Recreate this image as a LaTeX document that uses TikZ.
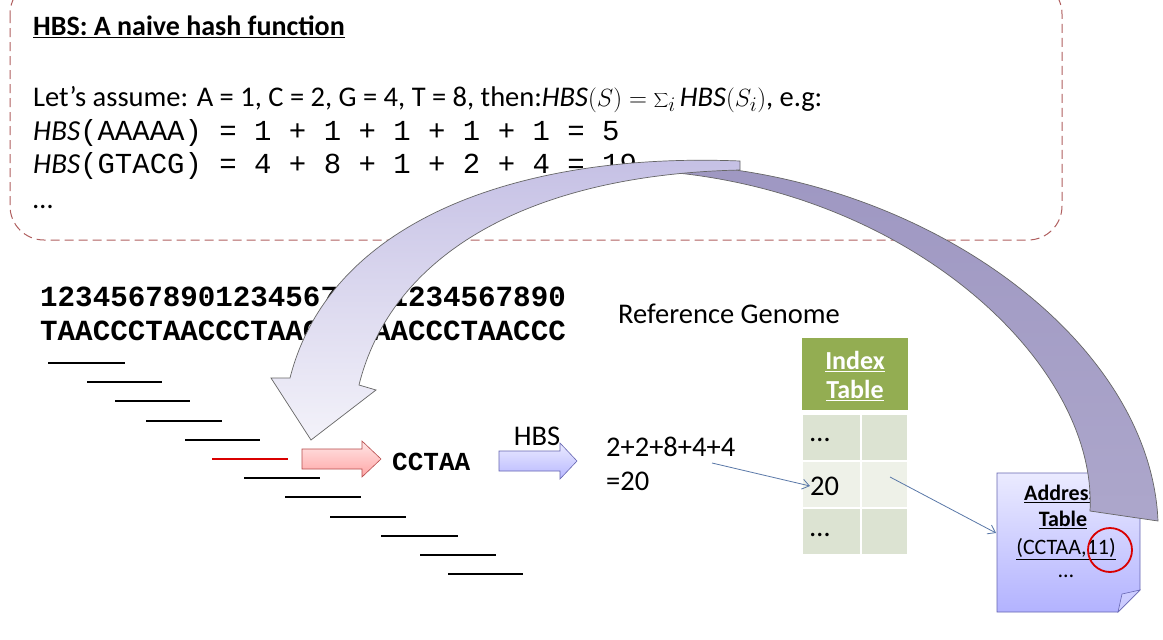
\documentclass[tikz,border=0pt]{standalone}
\usepackage{fontspec}
\setmainfont{Carlito}
\setmonofont{Liberation Mono}
\usetikzlibrary{arrows.meta}
\definecolor{dashred}{HTML}{B06060}
\definecolor{lav}{HTML}{C4BFE4}
\definecolor{lavd}{HTML}{9E97C2}
\definecolor{grn}{HTML}{93AD52}
\definecolor{rowc}{HTML}{DCE3D2}
\definecolor{rowl}{HTML}{EEF1E8}
\definecolor{linkc}{HTML}{5A78A8}
\tikzset{
  txt/.style={inner sep=0pt, anchor=west, font=\fontsize{28.5}{32}\selectfont},
  mono/.style={inner sep=0pt, anchor=west, font=\fontsize{29}{32}\selectfont\ttfamily},
  readln/.style={line width=2.6pt, black},
  cellc/.style={draw=white, line width=1.5pt},
  linkarrow/.style={draw=linkc, line width=0.8pt, -{Straight Barb[length=7pt,width=10pt]}},
  bandl/.style={draw=black!60, line width=0.7pt},
}
\begin{document}
\begin{tikzpicture}[x=1pt,y=-1pt]
\useasboundingbox (0,0) rectangle (1163,640);
\fill[white] (0,0) rectangle (1163,640);
% dashed box
\draw[dashred, dash pattern=on 9pt off 5pt, line width=1pt, rounded corners=34pt] (10,-20) rectangle (1062,240);
\node[txt, font=\fontsize{28}{32}\selectfont\bfseries] (title) at (33,27) {\underline{HBS: A naive hash function}};
\node[txt] (assume) at (33,100) {Let’s assume: A = 1, C = 2, G = 4, T = 8, then:$\mathit{HBS}(S)=\displaystyle\sum\nolimits_i \mathit{HBS}(S_i)$, e.g:};
\node[mono] (ex1) at (33,133) {\textit{\rmfamily HBS}(AAAAA) = 1 + 1 + 1 + 1 + 1 = 5};
\node[mono] (ex2) at (33,166) {\textit{\rmfamily HBS}(GTACG) = 4 + 8 + 1 + 2 + 4 = 19};
\node[txt] (dots) at (33,207) {…};
% genome
\node[mono, font=\fontsize{29.2}{32}\selectfont\ttfamily\bfseries] (digits) at (40,297) {123456789012345678901234567890};
\node[mono, font=\fontsize{29.2}{32}\selectfont\ttfamily\bfseries] (seq) at (40,331) {TAACCCTAACCCTAACCCTAACCCTAACCC};
\node[txt] (refg) at (618,314) {Reference Genome};
% reads
\foreach \a/\b/\y in {48/125/363,87/162/382,115/190/401,146/222/421,185/260/440,244/320/478,285/361/497,330/406/517,381/458/536,420/496/555,448/523/574}
  {\draw[readln] (\a,\y) -- (\b,\y);}
\draw[line width=2.6pt, red!85!black] (212,459) -- (288,459);
% block arrows
\path[draw=red!60!black!70, line width=0.6pt, top color=red!10, bottom color=red!35]
  (302,449) -- (362,449) -- (362,441) -- (381,459) -- (362,477) -- (362,469) -- (302,469) -- cycle;
\node[mono, font=\fontsize{26}{30}\selectfont\ttfamily\bfseries] (cctaa) at (392,462) {CCTAA};
\path[draw=blue!50!black!60, line width=0.6pt, top color=blue!8, bottom color=blue!28]
  (499,451) -- (560,451) -- (560,443) -- (577,461) -- (560,479) -- (560,471) -- (499,471) -- cycle;
\node[txt, anchor=center] (hbs) at (537,436) {HBS};
\node[txt] (sum) at (606,447) {2+2+8+4+4};
\node[txt] (eq) at (606,481) {=20};
% index table
\fill[grn] (802,338) rectangle (908,410);
\node[txt, anchor=center, text=white, font=\fontsize{26}{29}\selectfont\bfseries, align=center] (ith) at (855,376) {\underline{Index}\\\underline{Table}};
\fill[rowc, cellc] (802,414) rectangle (861,461);
\fill[rowc, cellc] (861,414) rectangle (908,461);
\fill[rowl, cellc] (802,461) rectangle (861,508);
\fill[rowl, cellc] (861,461) rectangle (908,508);
\fill[rowc, cellc] (802,508) rectangle (861,555);
\fill[rowc, cellc] (861,508) rectangle (908,555);
\node[txt] (c1) at (810,440) {…};
\node[txt] (c2) at (810,486) {20};
\node[txt] (c3) at (810,535) {…};
% address doc
\shade[top color=blue!8, bottom color=blue!30] (997,473) -- (1140,473) -- (1140,590) -- (1118,612) -- (997,612) -- cycle;
\draw[blue!50!black!60, line width=0.8pt] (997,473) -- (1140,473) -- (1140,590) -- (1118,612) -- (997,612) -- cycle;
\fill[blue!20, draw=blue!50!black!60, line width=0.6pt] (1118,612) -- (1122,594) -- (1140,590) -- cycle;
\coordinate (docin) at (996,533);
\node[txt, anchor=west, font=\fontsize{22}{26}\selectfont\bfseries] (addr) at (1024,494) {\underline{Address}};
\node[txt, anchor=center, font=\fontsize{22}{26}\selectfont\bfseries] (atab) at (1063,520) {\underline{Table}};
\node[txt, anchor=center, font=\fontsize{22}{26}\selectfont] (ent) at (1066,549) {\underline{(CCTAA,11)}};
\node[txt, anchor=center, font=\fontsize{22}{26}\selectfont] (ed) at (1066,576) {…};
\node[draw=red!85!black, line width=1.8pt, circle, minimum size=44pt, inner sep=0pt] (circ) at (1110,550) {};
% link arrows
\coordinate (s1) at (712,463);
\coordinate (s2) at (890,477);
\draw[linkarrow] (s1) -- (c2.west);
\draw[linkarrow] (s2) -- (docin);
% big curved arrows
\path[bandl, top color=lavd, bottom color=lavd!85] (636,164) .. controls (900,158) and (1150,330) .. (1158,521) -- (1090,511) .. controls (1098,360) and (900,180) .. (636,170) -- cycle;
\path[bandl, top color=lav, bottom color=lav!20] (740,161) .. controls (520,152) and (330,220) .. (290,378) -- (271,378) -- (311,440) -- (376,390) -- (359,385) .. controls (390,260) and (520,175) .. (740,170) -- cycle;
\end{tikzpicture}
\end{document}
